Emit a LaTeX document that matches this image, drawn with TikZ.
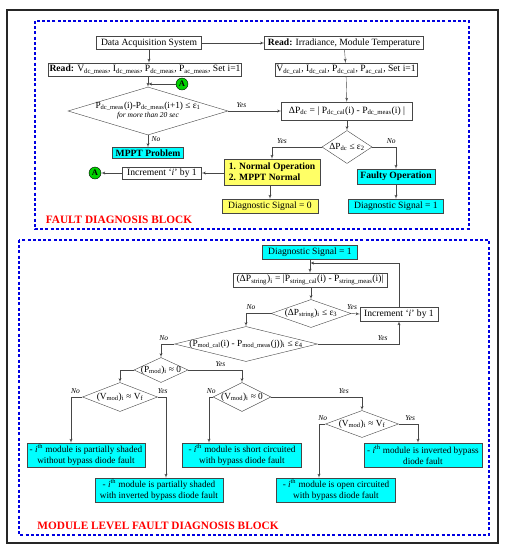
\documentclass[tikz,border=0pt]{standalone}
\usepackage{fontspec}
\setmainfont{Liberation Serif}
\usetikzlibrary{shapes.geometric,arrows,calc}
\definecolor{boxcyan}{RGB}{0,255,255}
\definecolor{boxyellow}{RGB}{255,255,102}
\definecolor{frameblue}{RGB}{0,0,225}
\definecolor{edgegray}{RGB}{70,70,70}
\definecolor{markgreen}{RGB}{0,210,0}
\newcommand{\sbs}[1]{\textsubscript{#1}}
\newcommand{\dtext}[1]{\makebox[0pt]{\begin{tabular}{@{}c@{}}#1\end{tabular}}}
\tikzstyle{block} = [rectangle, draw=edgegray, fill=white, inner sep=1pt,
    minimum height=13pt, font=\fontsize{9.6}{11}\selectfont]
\tikzstyle{cyanblock} = [block, fill=boxcyan]
\tikzstyle{yellowblock} = [block, fill=boxyellow]
\tikzstyle{result} = [cyanblock, align=center, minimum height=24pt, font=\fontsize{9.2}{11}\selectfont]
\tikzstyle{decision} = [diamond, draw=edgegray, fill=white, inner sep=0pt,
    font=\fontsize{9.3}{10}\selectfont]
\tikzstyle{line} = [draw=edgegray, -latex']
\tikzstyle{answer} = [font=\fontsize{7.5}{8}\selectfont\itshape]
\tikzstyle{jump} = [circle, draw, fill=markgreen, inner sep=0pt, minimum size=12pt,
    font=\fontsize{8.5}{9}\selectfont\bfseries]
\tikzstyle{blocktitle} = [text=red, font=\fontsize{11.3}{13}\selectfont\bfseries]
\tikzstyle{blockframe} = [draw=frameblue, line width=1.8pt, dash pattern=on 3pt off 2.2pt]

\begin{document}
\begin{tikzpicture}[x=1pt,y=-1pt]
    \useasboundingbox (0,0) rectangle (506,550);
    \draw [line width=1.1pt, black!85] (7,10) rectangle (498,543);
    \draw [blockframe] (35,21) rectangle (469,229);
    \draw [blockframe] (19,240) rectangle (489,535);

    % fault diagnosis block
    \node [block, minimum width=105pt] (das) at (149,43) {Data Acquisition System};
    \node [block, minimum width=159pt] (readirr) at (344,43) {\textbf{Read:} Irradiance, Module Temperature};
    \node [block, minimum width=190pt] (readv) at (145,69.5)
        {\textbf{Read:} V\sbs{dc\_meas}, I\sbs{dc\_meas}, P\sbs{dc\_meas}, P\sbs{ac\_meas}, Set i=1};
    \node [block, minimum width=142pt] (vcal) at (346,69.5)
        {V\sbs{dc\_cal}, I\sbs{dc\_cal}, P\sbs{dc\_cal}, P\sbs{ac\_cal}, Set i=1};
    \node [decision, minimum width=160pt, minimum height=48pt] (d1) at (148,111)
        {\dtext{P\sbs{dc\_meas}(i)-P\sbs{dc\_meas}(i+1) ≤ ε\sbs{1}\\[-1pt] {\fontsize{7.5}{8}\selectfont\itshape for more than 20 sec}}};
    \node [jump] (A1) at (182,84) {A};
    \node [block, minimum width=131pt, minimum height=18pt] (dpdc) at (347,111)
        {ΔP\sbs{dc} = | P\sbs{dc\_cal}(i) - P\sbs{dc\_meas}(i) |};
    \node [decision, minimum width=50pt, minimum height=33pt] (d2) at (347,147) {\dtext{ΔP\sbs{dc} ≤ ε\sbs{2}}};
    \node [cyanblock, minimum width=71pt, minimum height=11pt, font=\fontsize{9.6}{11}\selectfont\bfseries] (mppt) at (148,153) {MPPT Problem};
    \node [block, minimum width=79pt, minimum height=12pt] (inc1) at (162,173) {Increment ‘\textit{i}’ by 1};
    \node [jump] (A2) at (95,173) {A};
    \node [yellowblock, minimum width=96pt, minimum height=26pt, align=left,
        font=\fontsize{9.6}{11}\selectfont\bfseries] (normal) at (272,172) {1. Normal Operation\\2. MPPT Normal};
    \node [cyanblock, minimum width=78pt, minimum height=15pt, font=\fontsize{9.6}{11}\selectfont\bfseries] (faulty) at (396,176.5) {Faulty Operation};
    \node [yellowblock, minimum width=96pt, minimum height=14pt] (diag0) at (270,206) {Diagnostic Signal = 0};
    \node [cyanblock, minimum width=95pt, minimum height=14pt] (diag1) at (396,206) {Diagnostic Signal = 1};
    \node [blocktitle] (title1) at (119,220) {FAULT DIAGNOSIS BLOCK};

    % module level block
    \node [cyanblock, minimum width=95pt, minimum height=14pt] (diagb) at (310,252) {Diagnostic Signal = 1};
    \node [block, minimum width=154pt, minimum height=14pt] (dstrbox) at (310,280)
        {(ΔP\sbs{string})\sbs{i} = |P\sbs{string\_cal}(i) - P\sbs{string\_meas}(i)|};
    \node [decision, minimum width=80pt, minimum height=28pt] (dstr) at (311,313.5) {\dtext{(ΔP\sbs{string})\sbs{i} ≤ ε\sbs{3}}};
    \node [block, minimum width=78pt, minimum height=14pt] (inc2) at (399,314) {Increment ‘\textit{i}’ by 1};
    \node [decision, minimum width=143pt, minimum height=35pt] (d3) at (246,344)
        {\dtext{(P\sbs{mod\_cal}(i) - P\sbs{mod\_meas}(j))\sbs{i} ≤ ε\sbs{4}}};
    \node [decision, minimum width=54pt, minimum height=25pt] (d4) at (161,370) {\dtext{(P\sbs{mod})\sbs{i} ≈ 0}};
    \node [decision, minimum width=75pt, minimum height=29pt] (d5a) at (120,397) {\dtext{(V\sbs{mod})\sbs{i} ≈ V\sbs{f}}};
    \node [decision, minimum width=58pt, minimum height=29pt] (d5b) at (242,397) {\dtext{(V\sbs{mod})\sbs{i} ≈ 0}};
    \node [decision, minimum width=73pt, minimum height=27pt] (d6) at (362,424) {\dtext{(V\sbs{mod})\sbs{i} ≈ V\sbs{f}}};
    \node [result, minimum width=118pt] (resA) at (86,455) {- \textit{i}\textsuperscript{th} module is partially shaded\\without bypass diode fault};
    \node [result, minimum width=128pt] (resB) at (159,490) {- \textit{i}\textsuperscript{th} module is partially shaded\\with inverted bypass diode fault};
    \node [result, minimum width=119pt] (resC) at (242,455) {- \textit{i}\textsuperscript{th} module is short circuited\\with bypass diode fault};
    \node [result, minimum width=119pt] (resD) at (336,490) {- \textit{i}\textsuperscript{th} module is open circuited\\with bypass diode fault};
    \node [result, minimum width=118pt] (resE) at (423,455) {- \textit{i}\textsuperscript{th} module is inverted bypass\\diode fault};
    \node [blocktitle] (title2) at (158,526) {MODULE LEVEL FAULT DIAGNOSIS BLOCK};
    \coordinate (loopin) at (310,263);

    % Draw edges
    \path [line] (das) -- (readirr);
    \path [line] (das.south) -- (das.south |- readv.north);
    \path [line] (readirr) -- (vcal);
    \path [line] (readv.south -| d1.north) -- (d1.north);
    \path [line] (A1) -- (A1 -| d1.north);
    \path [line] (vcal) -- (dpdc);
    \path [line] (d1.east) -- node [answer, above, pos=0.25] {Yes} (dpdc.west);
    \path [line] (d1.south) -- node [answer, right, pos=0.3] {No} (mppt.north);
    \path [line] (dpdc) -- (d2);
    \path [line] (d2.west) -| node [answer, above, pos=0.4] {Yes} (normal.north);
    \path [line] (d2.east) -| node [answer, above, pos=0.4] {No} (faulty.north);
    \path [line] (normal.west |- inc1) -- (inc1.east);
    \path [line] (inc1) -- (A2);
    \path [line] (normal.south -| diag0) -- (diag0);
    \path [line] (faulty) -- (diag1);

    \path [line] (diagb) -- (dstrbox);
    \path [line] (inc2.north) |- (loopin);
    \path [line] (dstrbox.south -| dstr.north) -- (dstr.north);
    \path [line] (dstr.east) -- node [answer, above, pos=0.1] {Yes} (inc2.west);
    \path [line] (dstr.west) -| node [answer, above, pos=0.4] {No} (d3.north);
    \path [line] (d3.east) -| node [answer, above, pos=0.4] {Yes} (inc2.south);
    \path [line] (d3.west) -| node [answer, above, pos=0.4] {No} (d4.north);
    \path [line] (d4.east) -| node [answer, above, pos=0.3] {Yes} (d5b.north);
    \path [line] (d4.west) -| (d5a.north);
    \path [line] (d5a.west) -| node [answer, above, pos=0.3] {No} ($(resA.north)+(-15,0)$);
    \path [line] (d5a.east) -| node [answer, above, pos=0.3] {Yes} ($(resB.north)+(7,0)$);
    \path [line] (d5b.west) -| node [answer, above, pos=0.2] {No} ($(resC.north)+(-33,0)$);
    \path [line] (d5b.east) -| node [answer, above, pos=0.4] {Yes} (d6.north);
    \path [line] (d6.west) -| node [answer, above, pos=0.2] {No} ($(resD.north)+(-17,0)$);
    \path [line] (d6.east) -| node [answer, above, pos=0.3] {Yes} ($(resE.north)+(-5,0)$);

\end{tikzpicture}
\end{document}
